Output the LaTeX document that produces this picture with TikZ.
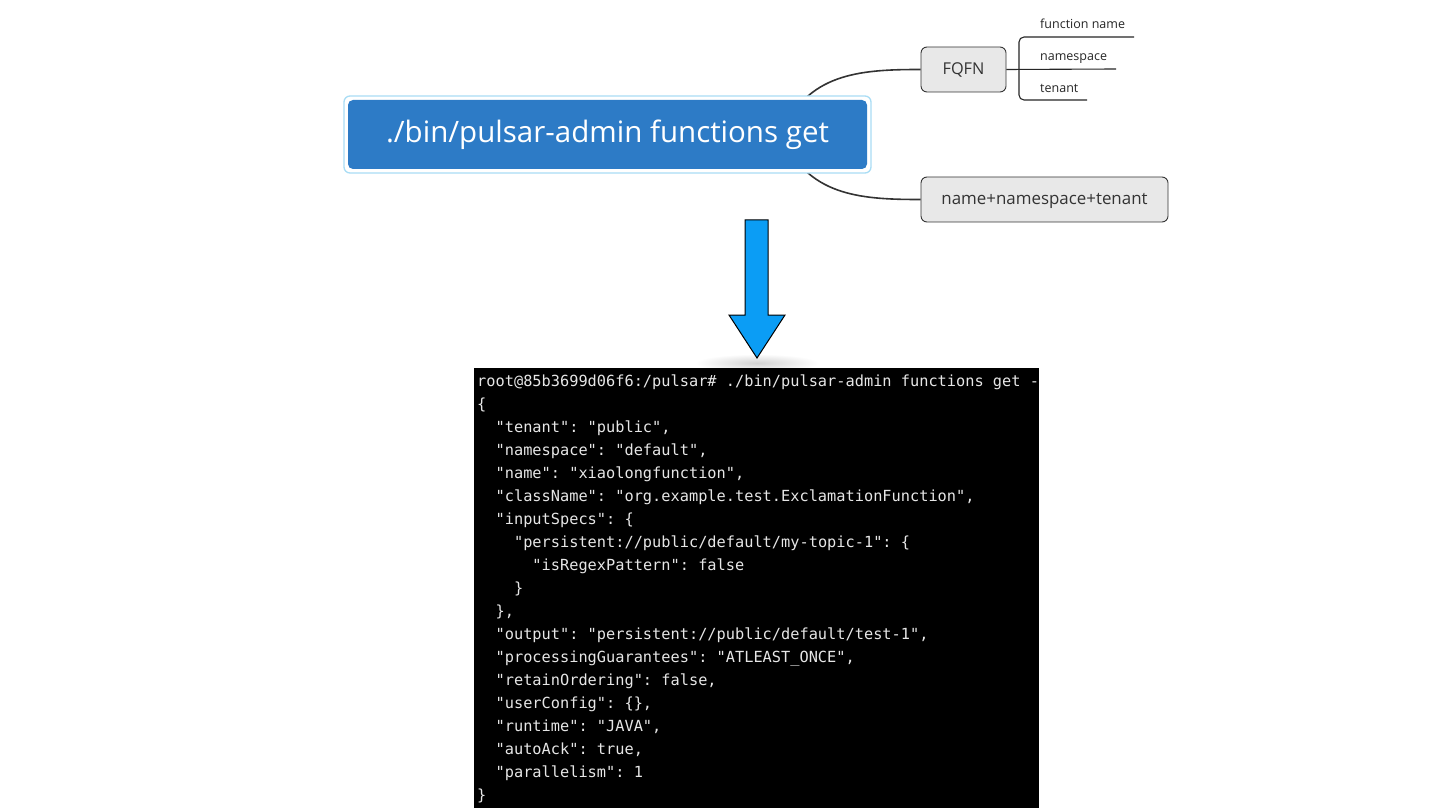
\documentclass[tikz,border=0pt]{standalone}
\usepackage{fontspec}
\setmainfont{Open Sans}
\setmonofont{DejaVu Sans Mono}
\usetikzlibrary{calc}

\definecolor{cmdblue}{HTML}{2D7BC6}
\definecolor{cmdframe}{HTML}{A9DDF5}
\definecolor{boxgray}{HTML}{E8E8E8}
\definecolor{linegray}{HTML}{333333}
\definecolor{arrowblue}{HTML}{0B9DF5}
\definecolor{termtext}{HTML}{E6E6E6}

\tikzset{
  topic/.style={draw=linegray, fill=boxgray, rounded corners=6pt, line width=0.9pt,
    minimum height=45pt, inner sep=0pt, text height=12pt, text depth=1pt,
    font=\fontsize{16.3}{19}\selectfont, text=black!80},
  branch/.style={draw=linegray, line width=1.6pt},
  leaf/.style={draw=black!85, line width=1.1pt},
  leaflabel/.style={anchor=base west, inner sep=0pt, font=\fontsize{12.5}{15}\selectfont, text=black!85},
  termline/.style={anchor=base west, inner sep=0pt, text=termtext,
    font=\ttfamily\fontsize{15.3}{18}\selectfont}
}

\begin{document}
\begin{tikzpicture}[x=1pt, y=-1pt]
  \useasboundingbox (0,0) rectangle (1440,810);
  \fill[white] (0,0) rectangle (1440,810);

  % mind map part
  \node [topic, minimum width=85pt] (fqfn) at (963.5, 69.5) {FQFN};
  \node [topic, minimum width=247pt, font=\fontsize{16.9}{19}\selectfont] (fullname) at (1044.5, 199.5) {name+namespace+tenant};

  \coordinate (cmdup) at (785, 128);
  \coordinate (cmddown) at (785, 141);
  \draw[branch] (cmdup) .. controls (810, 72) and (865, 69.5) .. (fqfn.west);
  \draw[branch] (cmddown) .. controls (810, 197) and (865, 199.5) .. (fullname.west);

  \node [draw=cmdframe, fill=white, line width=1.3pt, rounded corners=6pt,
    minimum width=527pt, minimum height=77pt] (cmdframe) at (607.5, 134.5) {};
  \node [fill=cmdblue, rounded corners=5pt, minimum width=519pt, minimum height=69pt,
    text height=22pt, text depth=6pt, text=white, font=\fontsize{29.5}{34}\selectfont] (cmd) at (607.5, 134.5)
    {./bin/pulsar-admin functions get};

  % FQFN parts
  \coordinate (fnend) at (1134, 37);
  \coordinate (nsend) at (1116, 69);
  \coordinate (tnend) at (1087, 100);
  \draw[leaf] (fqfn.east) -- (nsend);
  \draw[leaf, rounded corners=5pt] (fnend) -- (1019, 37) -- (1019, 100) -- (tnend);
  \node [leaflabel] (fnlabel) at (1040, 29) {function name};
  \node [leaflabel] (nslabel) at (1040, 61) {namespace};
  \node [leaflabel] (tnlabel) at (1040, 93) {tenant};

  % big arrow down to the output
  \shade[inner color=gray!35, outer color=white] (757, 363) ellipse (62 and 9);
  \draw[fill=arrowblue, line width=1pt, line join=miter]
    (745, 220) -- (768, 220) -- (768, 315) -- (785, 315) -- (757, 358)
    -- (729, 315) -- (745, 315) -- cycle;

  % terminal output
  \node [fill=black, minimum width=565pt, minimum height=440pt, inner sep=0pt] (term) at (756.5, 588) {};
  \begin{scope}
    \clip (term.north west) rectangle (term.south east);
    \foreach \txt [count=\i from 0] in {
      {root@85b3699d06f6:/pulsar\# ./bin/pulsar-admin functions get -},
      {\{},
      {\phantom{xx}"tenant": "public",},
      {\phantom{xx}"namespace": "default",},
      {\phantom{xx}"name": "xiaolongfunction",},
      {\phantom{xx}"className": "org.example.test.ExclamationFunction",},
      {\phantom{xx}"inputSpecs": \{},
      {\phantom{xxxx}"persistent://public/default/my-topic-1": \{},
      {\phantom{xxxxxx}"isRegexPattern": false},
      {\phantom{xxxx}\}},
      {\phantom{xx}\},},
      {\phantom{xx}"output": "persistent://public/default/test-1",},
      {\phantom{xx}"processingGuarantees": "ATLEAST\_ONCE",},
      {\phantom{xx}"retainOrdering": false,},
      {\phantom{xx}"userConfig": \{\},},
      {\phantom{xx}"runtime": "JAVA",},
      {\phantom{xx}"autoAck": true,},
      {\phantom{xx}"parallelism": 1},
      {\}}}
      \node [termline] (line\i) at (477, 386 + 23*\i) {\txt};
  \end{scope}
\end{tikzpicture}
\end{document}
